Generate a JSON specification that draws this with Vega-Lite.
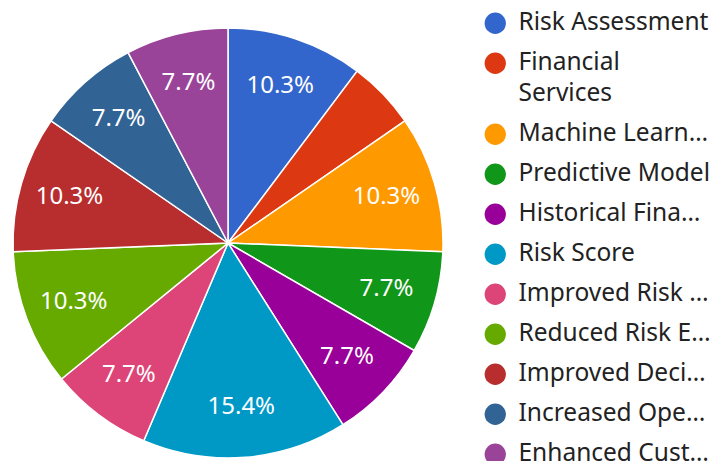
{
  "$schema": "https://vega.github.io/schema/vega-lite/v6.json",
  "width": 456,
  "height": 486,
  "padding": 0,
  "autosize": {"type": "pad"},
  "background": "white",
  "config": {"view": {"stroke": null}, "font": "Noto Sans", "style": {"guide-label": {"lineHeight": 31}}},
  "data": {
    "values": [
      {"i": 1, "category": "Risk Assessment", "count": 4, "pct": "10.3%"},
      {"i": 2, "category": "Financial Services", "count": 2, "pct": ""},
      {"i": 3, "category": "Machine Learning Model", "count": 4, "pct": "10.3%"},
      {"i": 4, "category": "Predictive Model", "count": 3, "pct": "7.7%"},
      {"i": 5, "category": "Historical Financial Data", "count": 3, "pct": "7.7%"},
      {"i": 6, "category": "Risk Score", "count": 6, "pct": "15.4%"},
      {"i": 7, "category": "Improved Risk Management", "count": 3, "pct": "7.7%"},
      {"i": 8, "category": "Reduced Risk Exposure", "count": 4, "pct": "10.3%"},
      {"i": 9, "category": "Improved Decision Making", "count": 4, "pct": "10.3%"},
      {"i": 10, "category": "Increased Operational Efficiency", "count": 3, "pct": "7.7%"},
      {"i": 11, "category": "Enhanced Customer Experience", "count": 3, "pct": "7.7%"}
    ]
  },
  "encoding": {
    "theta": {"field": "count", "type": "quantitative", "stack": true},
    "order": {"field": "i", "type": "quantitative"},
    "color": {
      "field": "category",
      "type": "nominal",
      "scale": {
        "domain": ["Risk Assessment", "Financial Services", "Machine Learning Model", "Predictive Model", "Historical Financial Data", "Risk Score", "Improved Risk Management", "Reduced Risk Exposure", "Improved Decision Making", "Increased Operational Efficiency", "Enhanced Customer Experience"],
        "range": ["#3366cc", "#dc3912", "#ff9900", "#109618", "#990099", "#0099c6", "#dd4477", "#66aa00", "#b82e2e", "#316395", "#994499"]
      },
      "legend": {
        "title": null,
        "orient": "none",
        "legendX": 483,
        "legendY": 11,
        "padding": 0,
        "symbolType": "circle",
        "symbolSize": 452,
        "symbolStrokeWidth": 0,
        "symbolOpacity": 1,
        "labelFont": "Noto Sans",
        "labelFontSize": 24.5,
        "labelColor": "#222222",
        "labelOffset": 11,
        "labelLimit": 194,
        "rowPadding": 15,
        "labelSeparation": 0,
        "labelExpr": "datum.label == 'Financial Services' ? ['Financial', 'Services'] : datum.label"
      }
    }
  },
  "layer": [
    {
      "mark": {"type": "arc", "outerRadius": 215, "stroke": "white", "strokeWidth": 1.5}
    },
    {
      "mark": {"type": "text", "radius": 165, "fill": "white", "fontSize": 24, "font": "Noto Sans"},
      "encoding": {
        "text": {"field": "pct", "type": "nominal"},
        "color": {"value": "white"}
      }
    }
  ]
}
